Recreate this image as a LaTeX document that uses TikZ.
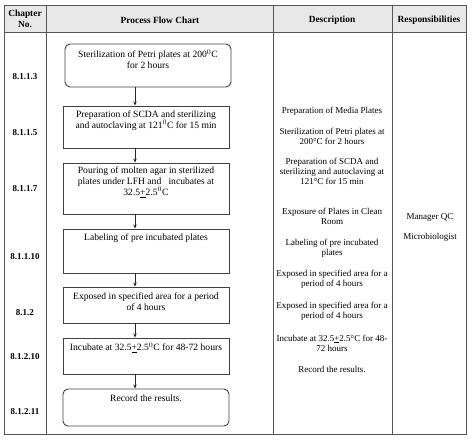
\documentclass[tikz,border=0pt]{standalone}
\usepackage{fontspec}
\setmainfont{Liberation Serif}
\usetikzlibrary{arrows.meta}
\definecolor{rule}{HTML}{555555}
\definecolor{headfill}{HTML}{E8E8E8}
\definecolor{boxline}{HTML}{404040}
\begin{document}
\begin{tikzpicture}[x=1pt,y=-1pt,
  every node/.style={inner sep=0pt, font=\fontsize{9}{10}\selectfont, text=black},
  stepbox/.style={draw=boxline, line width=0.9pt, minimum width=166pt, anchor=center},
  roundbox/.style={stepbox, rounded corners=5pt},
  boxtext/.style={anchor=north, align=center, font=\fontsize{9.6}{11}\selectfont},
  chap/.style={font=\fontsize{9}{10}\selectfont\bfseries},
  head/.style={font=\fontsize{9.4}{11}\selectfont\bfseries, align=center},
  desc/.style={align=center},
  arr/.style={draw=black!85, line width=0.7pt, -{Stealth[length=4pt,width=3.5pt]}}]
\useasboundingbox (0,0) rectangle (474,440);
% table
\fill[headfill] (4,5) rectangle (466,32);
\draw[rule, line width=0.9pt] (4,5) rectangle (466,434);
\draw[rule, line width=0.9pt] (4,32) -- (466,32);
\draw[rule, line width=0.9pt] (46,5) -- (46,434);
\draw[rule, line width=0.9pt] (273,5) -- (273,434);
\draw[rule, line width=0.9pt] (392,5) -- (392,434);
% header
\node[head] (hc) at (25,19) {Chapter\\No.};
\node[head] (hp) at (160,20) {Process Flow Chart};
\node[head] (hd) at (332,20) {Description};
\node[head] (hr) at (429,20) {Responsibilities};
% boxes
\node[roundbox, minimum height=43pt] (b1) at (148,65.5) {};
\node[stepbox, minimum height=42pt] (b2) at (146,127) {};
\node[stepbox, minimum height=51pt] (b3) at (146,188.5) {};
\node[stepbox, minimum height=44pt] (b4) at (146,251) {};
\node[stepbox, minimum height=36pt] (b5) at (146,305) {};
\node[stepbox, minimum height=36pt] (b6) at (146,356) {};
\node[roundbox, minimum height=37pt] (b7) at (146,407.5) {};
\node[boxtext] (t1) at ([yshift=-6pt]b1.north) {Sterilization of Petri plates at 200$^{0}$C\\for 2 hours};
\node[boxtext] (t2) at ([yshift=-4.5pt]b2.north) {Preparation of SCDA and sterilizing\\and autoclaving at 121$^{0}$C for 15 min};
\node[boxtext] (t3) at ([yshift=-4pt]b3.north) {Pouring of molten agar in sterilized\\plates under LFH and\ \ \ incubates at\\32.5\underline{+}2.5$^{0}$C};
\node[boxtext] (t4) at ([yshift=-5pt]b4.north) {Labeling of pre incubated plates};
\node[boxtext] (t5) at ([yshift=-6pt]b5.north) {Exposed in specified area for a period\\of 4 hours};
\node[boxtext] (t6) at ([yshift=-5pt]b6.north) {Incubate at 32.5\underline{+}2.5$^{0}$C for 48-72 hours};
\node[boxtext] (t7) at ([yshift=-6pt]b7.north) {Record the results.};
% arrows
\coordinate (ax) at (135,0);
\draw[arr] (b1.south -| ax) -- (b2.north -| ax);
\draw[arr] (b2.south -| ax) -- (b3.north -| ax);
\draw[arr] (b3.south -| ax) -- (b4.north -| ax);
\draw[arr] (b4.south -| ax) -- (b5.north -| ax);
\draw[arr] (b5.south -| ax) -- (b6.north -| ax);
\draw[arr] (b6.south -| ax) -- (b7.north -| ax);
% chapter numbers
\node[chap] (c1) at (25,77) {8.1.1.3};
\node[chap] (c2) at (25,133) {8.1.1.5};
\node[chap] (c3) at (25,189) {8.1.1.7};
\node[chap] (c4) at (25,257) {8.1.1.10};
\node[chap] (c5) at (25,313) {8.1.2};
\node[chap] (c6) at (25,357) {8.1.2.10};
\node[chap] (c7) at (25,412) {8.1.2.11};
% description
\node[desc] (d1) at (332,111) {Preparation of Media Plates};
\node[desc] (d2) at (332,136) {Sterilization of Petri plates at\\200\textdegree C for 2 hours};
\node[desc] (d3) at (332,171) {Preparation of SCDA and\\sterilizing and autoclaving at\\121\textdegree C for 15 min};
\node[desc] (d4) at (332,216) {Exposure of Plates in Clean\\Room};
\node[desc] (d5) at (332,248) {Labeling of pre incubated\\plates};
\node[desc] (d6) at (332,279) {Exposed in specified area for a\\period of 4 hours};
\node[desc] (d7) at (332,311) {Exposed in specified area for a\\period of 4 hours};
\node[desc] (d8) at (332,343) {Incubate at 32.5\underline{+}2.5\textdegree C for 48-\\72 hours};
\node[desc] (d9) at (332,369) {Record the results.};
% responsibilities
\node[desc] (r1) at (430,217) {Manager QC};
\node[desc] (r2) at (430,237) {Microbiologist};
\end{tikzpicture}
\end{document}
